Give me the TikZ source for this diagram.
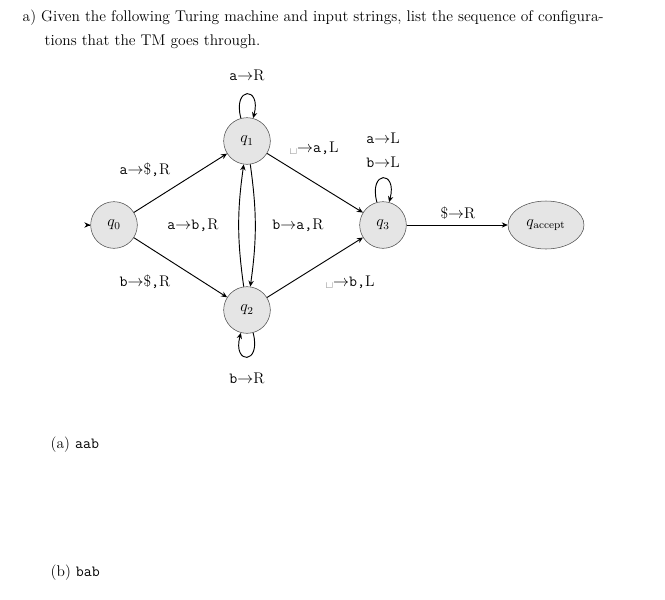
\documentclass[tikz,border=0pt]{standalone}
\usetikzlibrary{arrows.meta,shapes.geometric}
\newcommand{\ta}{\texttt{a}}
\newcommand{\tb}{\texttt{b}}
\newcommand{\tr}{$\rightarrow$}
\newcommand{\blk}{\raisebox{0pt}{\textvisiblespace}}
\begin{document}
\begin{tikzpicture}[x=0.75pt,y=-0.75pt,
  every node/.style={font=\fontsize{11.6}{14}\selectfont},
  st/.style={circle,draw=black!70,fill=black!10,minimum size=35pt,inner sep=0pt},
  acc/.style={ellipse,draw=black!70,fill=black!10,minimum width=57pt,minimum height=36pt,inner sep=0pt},
  edge/.style={draw,-{Stealth[length=4.5pt,width=4pt]},line width=0.7pt},
  lbl/.style={inner sep=1pt}]
\useasboundingbox (0,0) rectangle (665,600);
\node[anchor=west] (t1) at (18,18) {a) Given the following Turing machine and input strings, list the sequence of configura-};
\node[anchor=west] (t2) at (40,42) {tions that the TM goes through.};
\node[st] (q0) at (114,225) {$q_0$};
\node[st] (q1) at (247,141) {$q_1$};
\node[st] (q2) at (247,310) {$q_2$};
\node[st] (q3) at (383,225) {$q_3$};
\node[acc] (qa) at (546,225) {$q_{\mathrm{accept}}$};
\coordinate (init) at (90,225);
\draw[edge] (init) -- (q0);
\draw[edge] (q0) -- (q1);
\draw[edge] (q0) -- (q2);
\draw[edge] (q1) -- (q3);
\draw[edge] (q2) -- (q3);
\draw[edge] (q3) -- (qa);
\draw[edge] (q2) to[bend left=8] (q1);
\draw[edge] (q1) to[bend left=8] (q2);
\draw[edge] (q1) to[out=105,in=75,looseness=7] (q1);
\draw[edge] (q3) to[out=105,in=75,looseness=7] (q3);
\draw[edge] (q2) to[out=-75,in=-105,looseness=7] (q2);
\node[lbl] (l1) at (247,75) {\ta\tr R};
\node[lbl] (l2) at (383,138) {\ta\tr L};
\node[lbl] (l3) at (383,162) {\tb\tr L};
\node[lbl] (l4) at (247,378) {\tb\tr R};
\node[lbl] (l5) at (145,170) {\ta\tr\$\texttt{,}R};
\node[lbl] (l6) at (145,282) {\tb\tr\$\texttt{,}R};
\node[lbl] (l7) at (193,225) {\ta\tr\tb\texttt{,}R};
\node[lbl] (l8) at (298,225) {\tb\tr\ta\texttt{,}R};
\node[lbl] (l9) at (314,148) {\blk\tr\ta\texttt{,}L};
\node[lbl] (l10) at (350,282) {\blk\tr\tb\texttt{,}L};
\node[lbl] (l11) at (458,213) {\$\tr R};
\node[anchor=west] (pa) at (46,445) {(a) \texttt{aab}};
\node[anchor=west] (pb) at (46,573) {(b) \texttt{bab}};
\end{tikzpicture}
\end{document}
